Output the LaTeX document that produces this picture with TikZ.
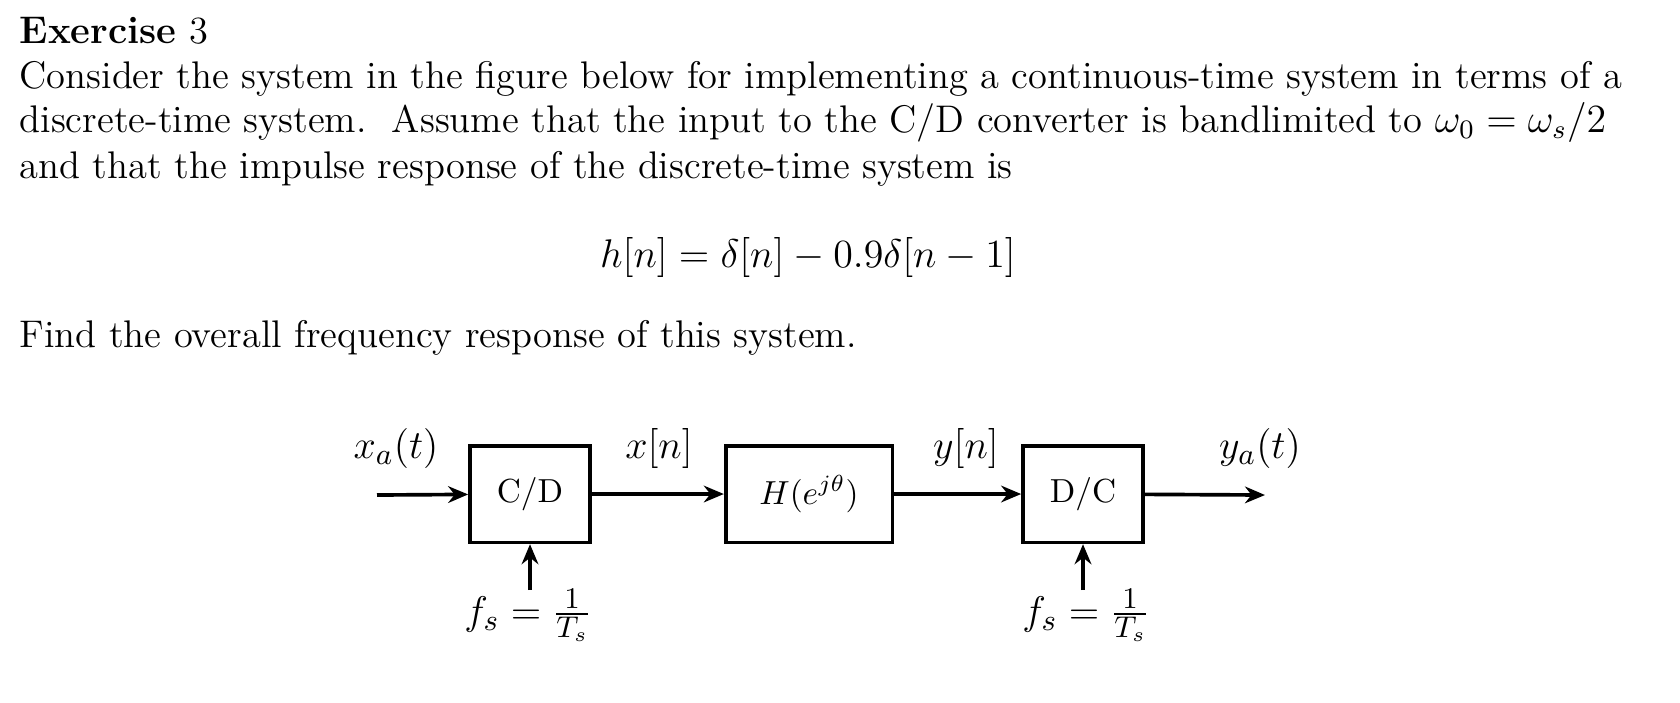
\documentclass[tikz,border=0pt]{standalone}
\usepackage{amsmath}
\usetikzlibrary{arrows.meta}
\begin{document}
\begin{tikzpicture}[x=0.3pt,y=-0.3pt,
  blk/.style={draw,line width=1.1pt,minimum height=29pt,inner sep=0pt},
  sig/.style={line width=1.1pt,-{Stealth[length=6pt,width=5pt]}},
  txt/.style={anchor=base west,inner sep=0pt,font=\fontsize{12.5}{13.5}\selectfont},
  par/.style={anchor=base west,inner sep=0pt,font=\fontsize{11.55}{13.5}\selectfont}]
\useasboundingbox (0,0) rectangle (1680,702);
\node[par] (t0) at (19,43) {\textbf{Exercise} 3};
\node[par] (t1) at (19,88) {Consider the system in the figure below for implementing a continuous-time system in terms of a};
\node[par] (t2) at (19,132) {discrete-time system.\ \ Assume that the input to the C/D converter is bandlimited to $\omega_0=\omega_s/2$};
\node[par] (t3) at (19,178) {and that the impulse response of the discrete-time system is};
\node[txt,anchor=base] (eq) at (808,267) {$h[n]=\delta[n]-0.9\delta[n-1]$};
\node[par] (t4) at (19,347) {Find the overall frequency response of this system.};
\node[blk,minimum width=36pt] (cd) at (530,494) {C/D};
\node[blk,minimum width=50pt] (h) at (809,494) {$H(e^{j\theta})$};
\node[blk,minimum width=36pt] (dc) at (1083,494) {D/C};
\coordinate (in) at (377,495);
\coordinate (out) at (1265,495);
\coordinate (c1) at (530,590);
\coordinate (c2) at (1083,590);
\draw[sig] (in) -- (cd);
\draw[sig] (cd) -- (h);
\draw[sig] (h) -- (dc);
\draw[sig] (dc) -- (out);
\node[txt,anchor=base] (xa) at (396,458) {$x_a(t)$};
\node[txt,anchor=base] (xn) at (659,458) {$x[n]$};
\node[txt,anchor=base] (yn) at (966,458) {$y[n]$};
\node[txt,anchor=base] (ya) at (1260,458) {$y_a(t)$};
\node[txt,anchor=base] (f1) at (528,624) {$f_s=\frac{1}{T_s}$};
\node[txt,anchor=base] (f2) at (1086,624) {$f_s=\frac{1}{T_s}$};
\draw[sig] (c1) -- (cd);
\draw[sig] (c2) -- (dc);
\end{tikzpicture}
\end{document}
